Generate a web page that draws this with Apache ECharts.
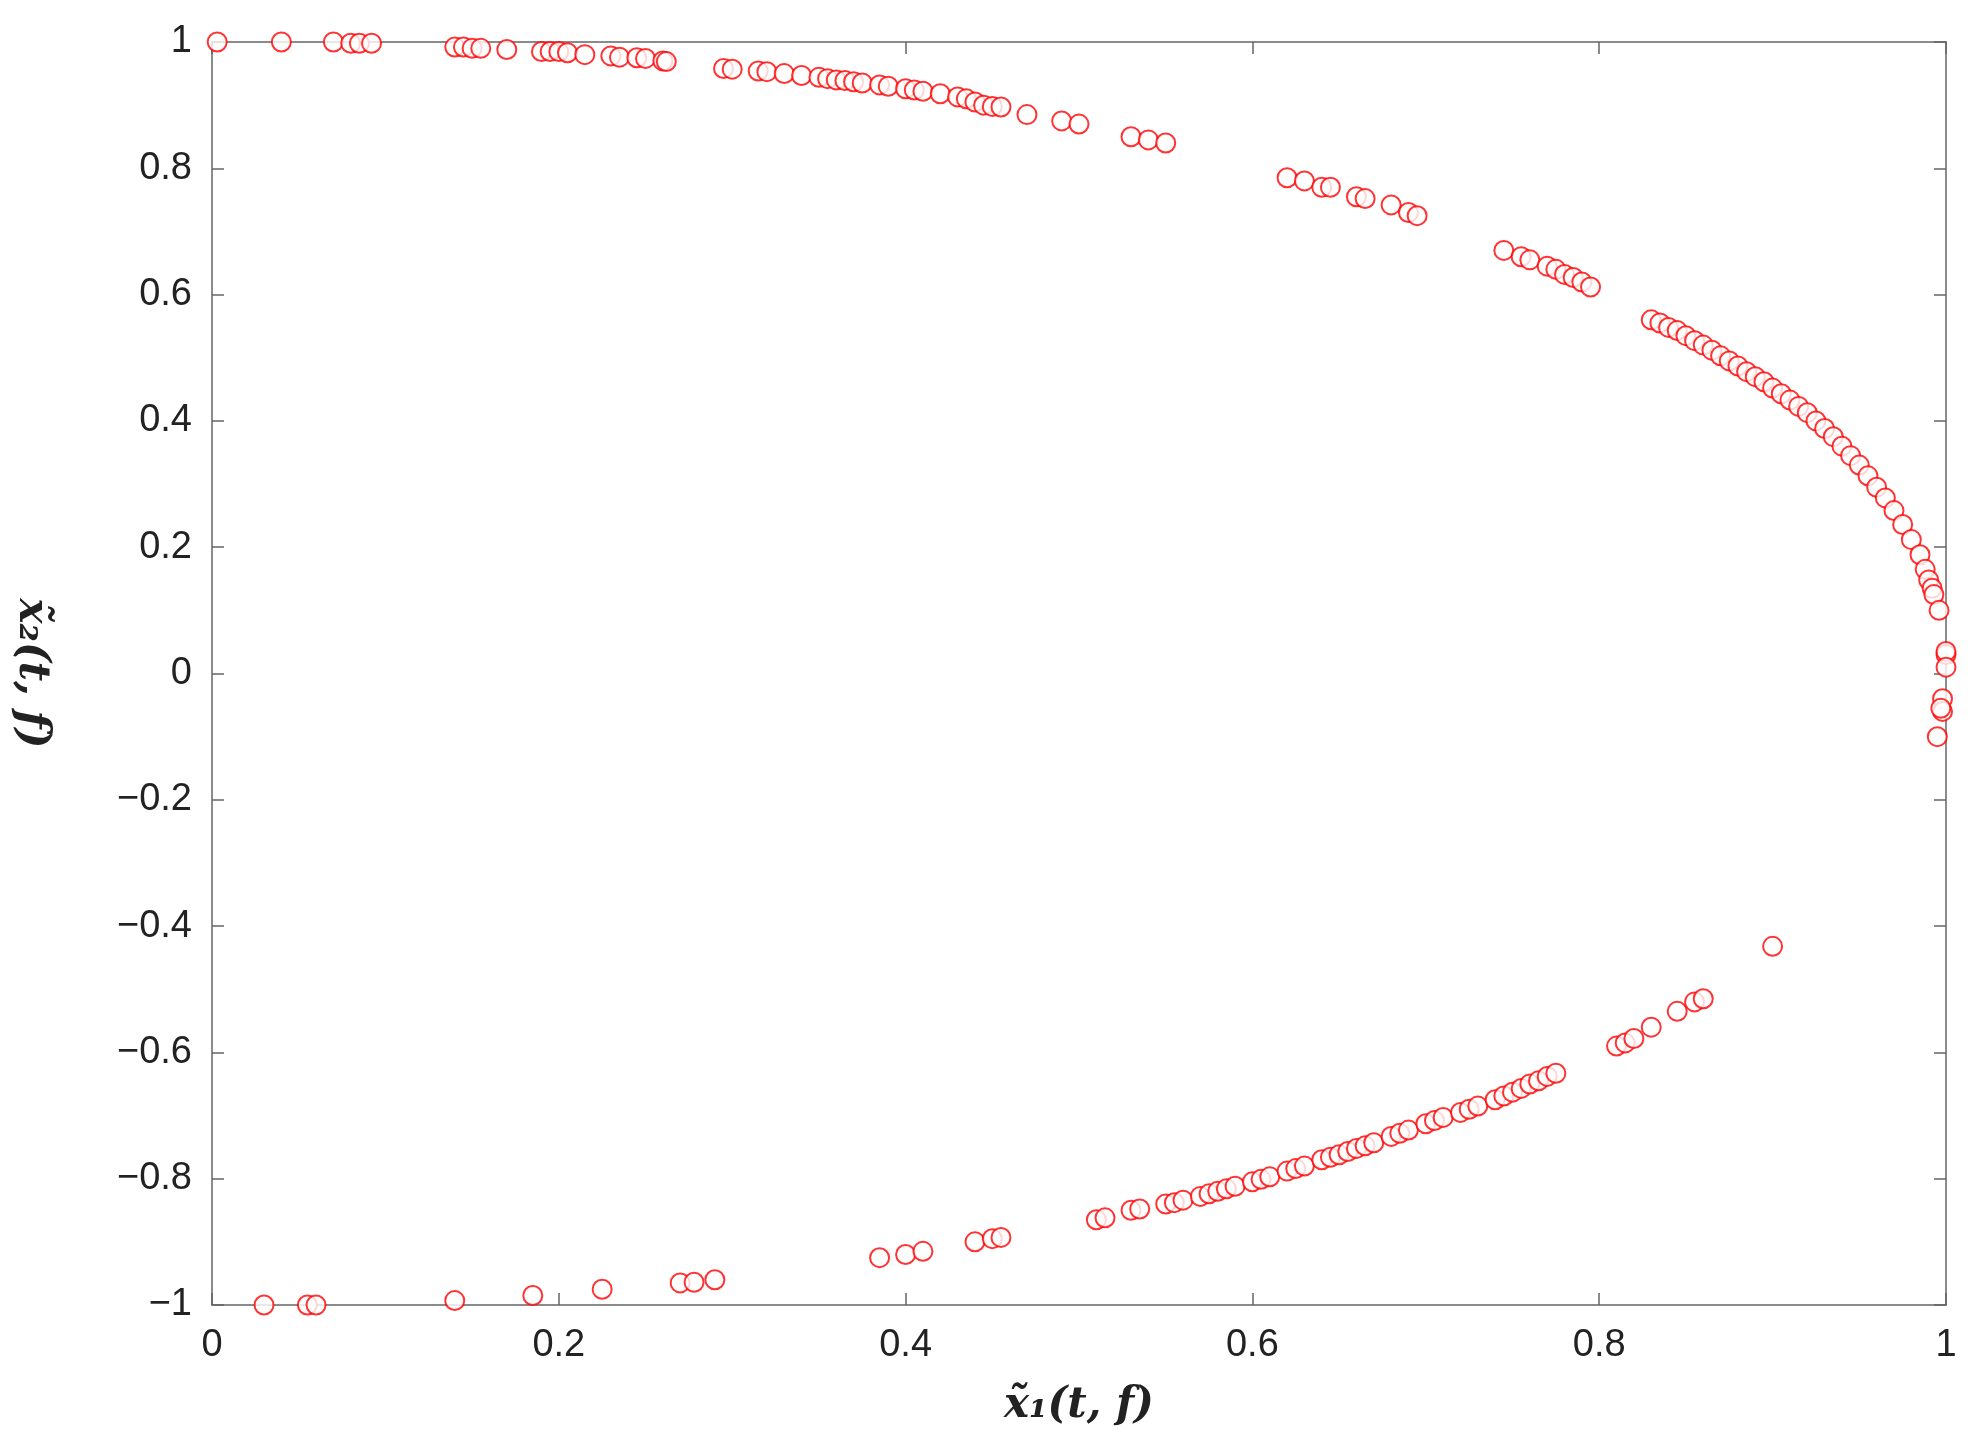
<!DOCTYPE html>
<html>
<head>
<meta charset="utf-8">
<script src="https://cdn.jsdelivr.net/npm/echarts@6/dist/echarts.min.js"></script>
<style>html,body{margin:0;padding:0;background:#fff}#chart{width:1977px;height:1435px}</style>
</head>
<body>
<div id="chart"></div>
<script>
// upper branch (x1, x2)
var upperX = [0.003,0.04,0.07,0.08,0.085,0.092,0.14,0.145,0.15,0.155,0.17,0.19,0.195,0.2,0.205,0.215,0.23,0.235,0.245,0.25,0.26,0.262,0.295,0.3,0.315,0.32,0.33,0.34,0.35,0.355,0.36,0.365,0.37,0.375,0.385,0.39,0.4,0.405,0.41,0.42,0.43,0.435,0.44,0.445,0.45,0.455,0.47,0.49,0.5,0.53,0.54,0.55,0.62,0.63,0.64,0.645,0.66,0.665,0.68,0.69,0.695,0.745,0.755,0.76,0.77,0.775,0.78,0.785,0.79,0.795,0.83,0.835,0.84,0.845,0.85,0.855,0.86,0.865,0.87,0.875,0.88,0.885,0.89,0.895,0.9,0.905,0.91,0.915,0.92,0.925,0.93,0.935,0.94,0.945,0.95,0.955,0.96,0.965,0.97,0.975,0.98,0.985,0.988,0.99,0.992,0.993,0.996,1.0,1.0,1.0,0.998,0.998,0.997,0.995];
var upperY = [1,1,1,0.998,0.998,0.998,0.992,0.992,0.99,0.99,0.988,0.985,0.985,0.985,0.983,0.98,0.978,0.976,0.975,0.974,0.97,0.969,0.958,0.957,0.954,0.953,0.95,0.947,0.944,0.942,0.94,0.939,0.937,0.935,0.932,0.93,0.926,0.924,0.922,0.918,0.913,0.91,0.905,0.9,0.898,0.897,0.885,0.875,0.87,0.85,0.845,0.84,0.785,0.78,0.77,0.77,0.755,0.752,0.742,0.73,0.725,0.67,0.66,0.655,0.645,0.64,0.632,0.627,0.62,0.612,0.56,0.555,0.548,0.543,0.535,0.527,0.52,0.512,0.503,0.495,0.487,0.478,0.47,0.462,0.452,0.443,0.433,0.423,0.413,0.4,0.388,0.375,0.36,0.345,0.33,0.313,0.295,0.278,0.258,0.236,0.212,0.188,0.165,0.148,0.135,0.125,0.1,0.03,0.035,0.01,-0.04,-0.06,-0.055,-0.1];
// lower branch
var lowerX = [0.03,0.055,0.06,0.14,0.185,0.225,0.27,0.278,0.29,0.385,0.4,0.41,0.44,0.45,0.455,0.51,0.515,0.53,0.535,0.55,0.555,0.56,0.57,0.575,0.58,0.585,0.59,0.6,0.605,0.61,0.62,0.625,0.63,0.64,0.645,0.65,0.655,0.66,0.665,0.67,0.68,0.685,0.69,0.7,0.705,0.71,0.72,0.725,0.73,0.74,0.745,0.75,0.755,0.76,0.765,0.77,0.775,0.81,0.815,0.82,0.83,0.845,0.855,0.86,0.9];
var lowerY = [-1,-1,-1,-0.993,-0.985,-0.975,-0.965,-0.964,-0.96,-0.925,-0.92,-0.915,-0.9,-0.895,-0.893,-0.865,-0.862,-0.85,-0.848,-0.84,-0.838,-0.834,-0.828,-0.824,-0.82,-0.816,-0.812,-0.805,-0.801,-0.797,-0.788,-0.784,-0.78,-0.77,-0.766,-0.762,-0.757,-0.752,-0.748,-0.743,-0.733,-0.728,-0.723,-0.713,-0.708,-0.703,-0.695,-0.69,-0.685,-0.675,-0.669,-0.663,-0.657,-0.65,-0.645,-0.638,-0.633,-0.59,-0.585,-0.578,-0.56,-0.535,-0.52,-0.515,-0.432];

function zip(a, b) { return a.map(function (v, i) { return [v, b[i]]; }); }

var chart = echarts.init(document.getElementById('chart'));
var labelStyle = { fontFamily: 'Arial, Liberation Sans', fontSize: 38, color: '#222' };
var lineStyle = { color: '#666', width: 1.5 };
var fmt = function (v) { v = Math.round(v * 10) / 10; return v < 0 ? '\u2212' + Math.abs(v) : String(v); };
var nameStyle = { fontFamily: 'DejaVu Serif', fontStyle: 'italic', fontWeight: 'bold', fontSize: 42, color: '#222' };
function frameAxis(pos, min, max) {
    return {
        type: 'value', position: pos, min: min, max: max, interval: 0.2,
        axisLine: { onZero: false, lineStyle: lineStyle },
        axisTick: { inside: true, length: 12, lineStyle: lineStyle },
        axisLabel: { show: false }, splitLine: { show: false }
    };
}
var option = {
    backgroundColor: '#fff',
    grid: { left: 212, right: 31, top: 42, bottom: 130 },
    xAxis: [
        {
            type: 'value', position: 'bottom', min: 0, max: 1, interval: 0.2,
            axisLine: { onZero: false, lineStyle: lineStyle },
            axisTick: { inside: true, length: 12, lineStyle: lineStyle },
            axisLabel: Object.assign({ margin: 22, formatter: fmt }, labelStyle),
            splitLine: { show: false },
            name: 'x\u0303\u2081(t, f)', nameLocation: 'middle', nameGap: 80,
            nameTextStyle: nameStyle
        },
        frameAxis('top', 0, 1)
    ],
    yAxis: [
        {
            type: 'value', position: 'left', min: -1, max: 1, interval: 0.2,
            axisLine: { onZero: false, lineStyle: lineStyle },
            axisTick: { inside: true, length: 12, lineStyle: lineStyle },
            axisLabel: Object.assign({ margin: 20, formatter: fmt }, labelStyle),
            splitLine: { show: false },
            name: 'x\u0303\u2082(t, f)', nameLocation: 'middle', nameGap: 160, nameRotate: -90,
            nameTextStyle: nameStyle
        },
        frameAxis('right', -1, 1)
    ],
    series: [
        {
            type: 'scatter', symbol: 'emptyCircle', symbolSize: 19,
            itemStyle: { color: '#ff0000', borderColor: '#ff0000', borderWidth: 1.6 },
            data: zip(upperX, upperY)
        },
        {
            type: 'scatter', symbol: 'emptyCircle', symbolSize: 19,
            itemStyle: { color: '#ff0000', borderColor: '#ff0000', borderWidth: 1.6 },
            data: zip(lowerX, lowerY)
        }
    ]
};
chart.setOption(option, true);
</script>
</body>
</html>
